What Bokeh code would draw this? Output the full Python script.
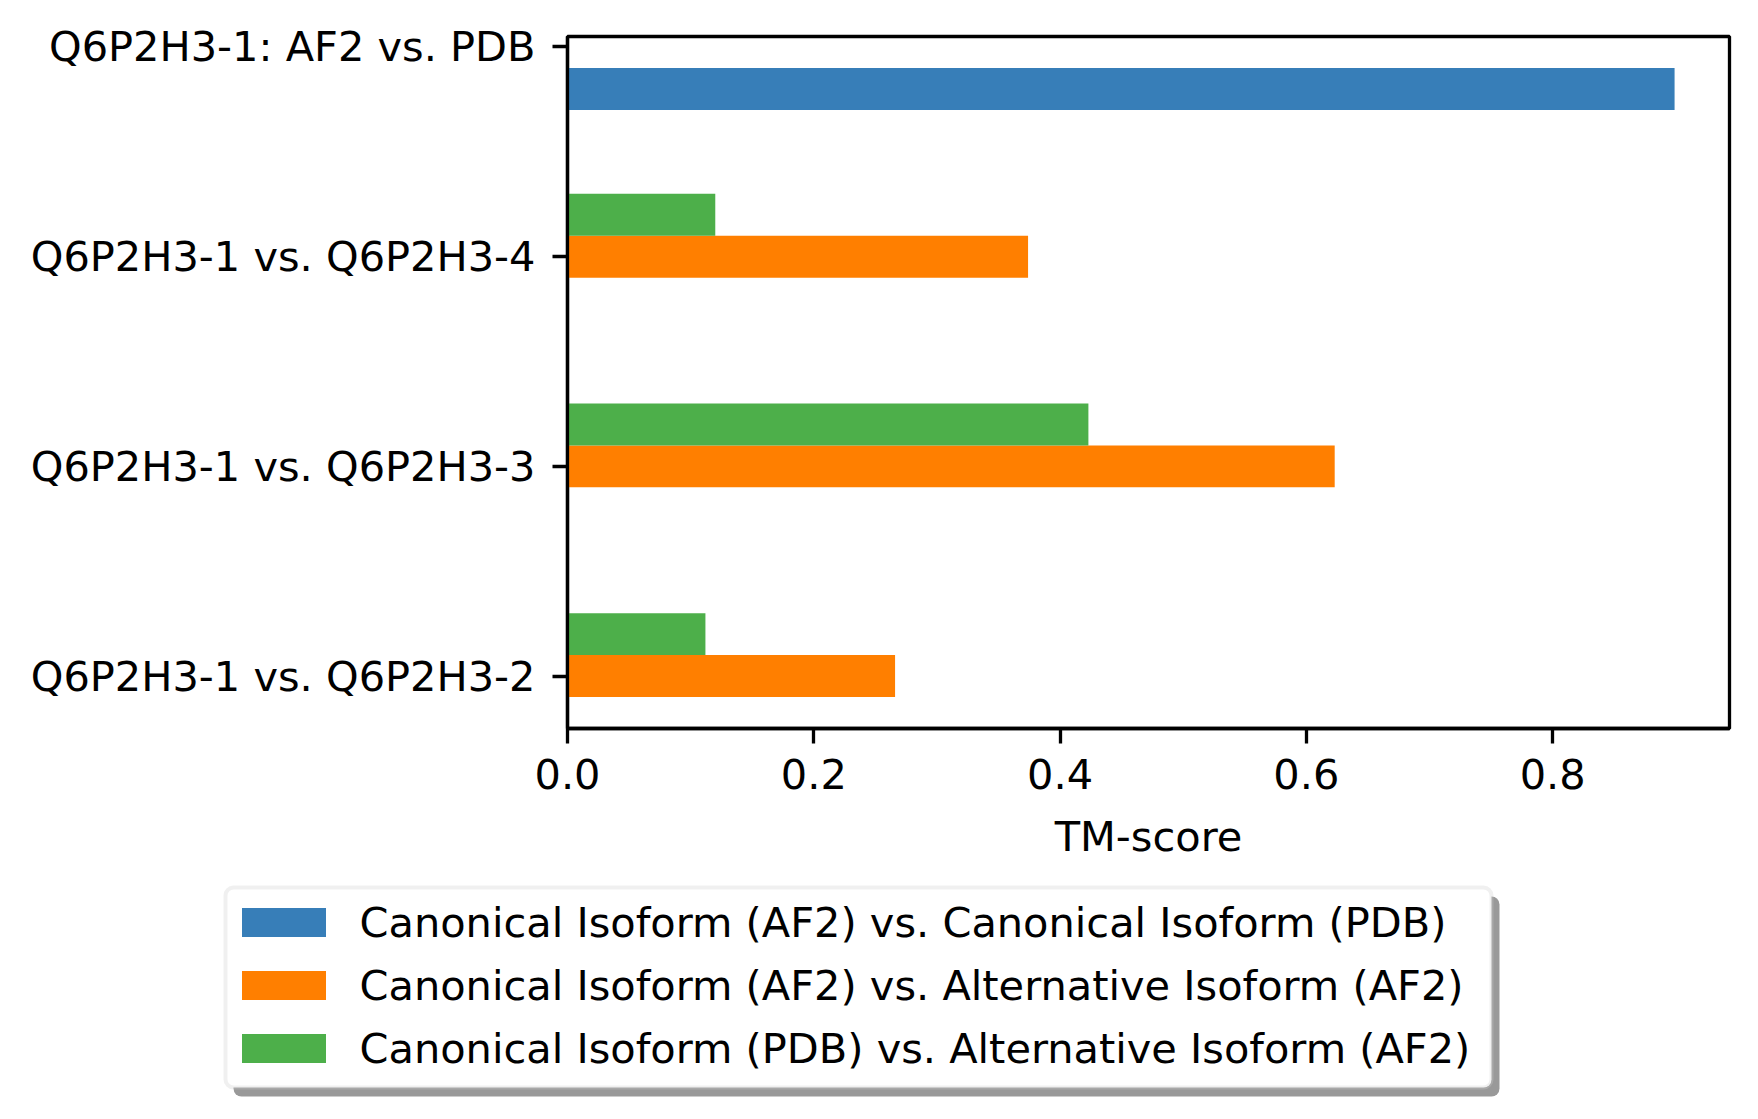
import numpy as np
from bokeh.plotting import figure
from bokeh.layouts import column
from bokeh.models import (ColumnDataSource, FixedTicker, PrintfTickFormatter,
                          Legend, LegendItem, BoxAnnotation, Range1d)
from bokeh.transform import dodge
from bokeh.embed import file_html
from bokeh.resources import INLINE

# categories, bottom to top
pairs = ["Q6P2H3-1 vs. Q6P2H3-2", "Q6P2H3-1 vs. Q6P2H3-3",
         "Q6P2H3-1 vs. Q6P2H3-4", "Q6P2H3-1: AF2 vs. PDB"]

# TM-scores per series (nan = no bar)
canon_af2_vs_canon_pdb = [np.nan, np.nan, np.nan, 0.899]
canon_af2_vs_alt_af2 = [0.266, 0.623, 0.374, np.nan]
canon_pdb_vs_alt_af2 = [0.112, 0.423, 0.120, np.nan]

series_names = ["Canonical Isoform (AF2) vs. Canonical Isoform (PDB)",
                "Canonical Isoform (AF2) vs. Alternative Isoform (AF2)",
                "Canonical Isoform (PDB) vs. Alternative Isoform (AF2)"]
series_values = [canon_af2_vs_canon_pdb, canon_af2_vs_alt_af2, canon_pdb_vs_alt_af2]
colors = ["#377eb8", "#ff7f00", "#4daf4a"]
offsets = [-0.2, 0.0, 0.2]
x_ticks = [0.0, 0.2, 0.4, 0.6, 0.8]

FONT = "DejaVu Sans"
FS = "41.5px"
LW = 3.3
W = 1750

# main bar chart
p = figure(width=W, height=880, output_backend="svg", toolbar_location=None,
           x_range=Range1d(0, 0.9436), y_range=Range1d(-0.25, 3.05))
p.frame_align = False
p.min_border_left = 567
p.min_border_right = 21
p.min_border_top = 36
p.min_border_bottom = 152
p.background_fill_color = "white"
p.border_fill_color = "white"
p.outline_line_color = "black"
p.outline_line_width = LW
p.grid.visible = False

ypos = np.arange(len(pairs), dtype=float)
sources = []
for vals, color, off in zip(series_values, colors, offsets):
    vals = np.array(vals, dtype=float)
    mask = ~np.isnan(vals)
    src = ColumnDataSource(dict(y=ypos[mask], right=vals[mask]))
    sources.append(src)
    p.hbar(y=dodge("y", off), left=0, right="right", height=0.2,
           fill_color=color, line_color=None, source=src)

# axes
p.xaxis.ticker = FixedTicker(ticks=x_ticks)
p.xaxis.formatter = PrintfTickFormatter(format="%.1f")
p.yaxis.ticker = FixedTicker(ticks=list(ypos))
p.yaxis.major_label_overrides = {i: name for i, name in enumerate(pairs)}
for ax in (p.xaxis, p.yaxis):
    ax.axis_line_color = "black"
    ax.axis_line_width = LW
    ax.major_tick_line_color = "black"
    ax.major_tick_line_width = LW
    ax.major_tick_out = 15
    ax.major_tick_in = 0
    ax.minor_tick_line_color = None
    ax.major_label_text_font = FONT
    ax.major_label_text_font_size = FS
    ax.major_label_text_color = "black"
p.xaxis.major_label_standoff = 15
p.yaxis.major_label_standoff = 17
p.xaxis.axis_label = "TM-score"
p.xaxis.axis_label_text_font = FONT
p.xaxis.axis_label_text_font_size = FS
p.xaxis.axis_label_text_font_style = "normal"
p.xaxis.axis_label_text_color = "black"
p.xaxis.axis_label_standoff = 20

# legend strip below the chart (pixel coordinates, y downward)
LH = 231
lg = figure(width=W, height=LH, output_backend="svg", toolbar_location=None,
            x_range=Range1d(0, W), y_range=Range1d(LH, 0),
            x_axis_type=None, y_axis_type=None, min_border=0)
lg.frame_align = False
lg.outline_line_color = None
lg.background_fill_color = "white"
lg.border_fill_color = "white"

lg.add_layout(BoxAnnotation(left=233, right=1499, top=16, bottom=216,
                            fill_color="#999999", fill_alpha=1.0, line_color=None,
                            border_radius=8))
lg.add_layout(BoxAnnotation(left=225, right=1491, top=7, bottom=207,
                            fill_color="white", fill_alpha=1.0,
                            line_color="#cccccc", line_width=4, border_radius=8))

# the series again, hidden, only to supply the legend swatches
items = []
for name, color, src in zip(series_names, colors, sources):
    r = lg.hbar(y="y", right="right", left=0, height=0.2, fill_color=color,
                line_color=None, source=src, visible=False)
    items.append(LegendItem(label=name, renderers=[r]))

legend = Legend(items=items, location=(230.5, 38.5), padding=0, spacing=14,
                glyph_width=105, glyph_height=36, label_standoff=24, label_height=48,
                label_text_font=FONT, label_text_font_size=FS, label_text_color="black",
                background_fill_alpha=0, border_line_color=None,
                inactive_fill_alpha=0)
lg.add_layout(legend, "center")

layout = column(p, lg, spacing=0)
open("out.html", "w").write(file_html(layout, INLINE))
